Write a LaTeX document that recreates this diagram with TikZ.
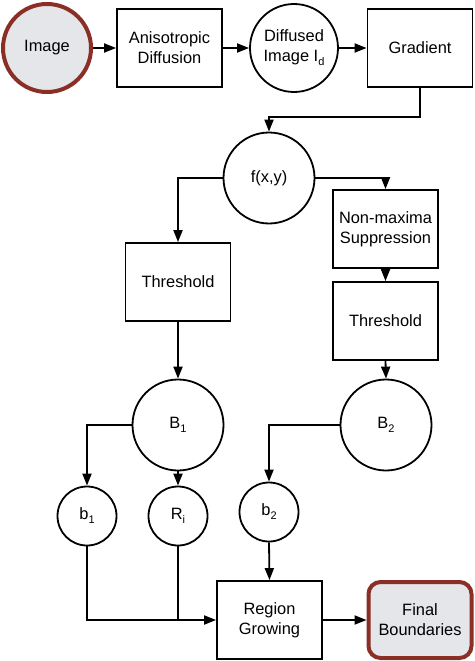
\documentclass[tikz,border=0pt]{standalone}
\usepackage{fontspec}
\setmainfont{Liberation Sans}
\usetikzlibrary{arrows.meta}
\definecolor{bred}{HTML}{8B2E26}
\definecolor{bgray}{HTML}{E5E6EA}
\newcommand{\lowsub}[1]{\raisebox{-0.45ex}{\fontsize{11}{11}\selectfont #1}}
\tikzset{
  base/.style={draw=black, line width=1.8pt, align=center, inner sep=0pt,
    font=\fontsize{16.4}{20}\selectfont},
  box/.style={base, rectangle, minimum width=105pt, minimum height=78pt},
  bigc/.style={base, circle, minimum size=91pt},
  smallc/.style={base, circle, minimum size=59pt},
  term/.style={base, draw=bred, line width=4pt, fill=bgray},
  conn/.style={line width=1.8pt, -{Triangle[length=12pt,width=9pt]}},
  plain/.style={line width=1.8pt}
}
\begin{document}
\begin{tikzpicture}[x=1pt,y=-1pt]
\useasboundingbox (0,0) rectangle (474,661);
\node[term, circle, minimum size=88pt] (img) at (47,48) {Image};
\node[box] (aniso) at (169.5,48) {Anisotropic\\Diffusion};
\node[bigc, minimum size=88pt] (diff) at (294,48) {Diffused\\Image I\lowsub{d}};
\node[box] (grad) at (420,48) {Gradient};
\node[bigc] (f) at (269,178) {f(x,y)};
\node[box] (nms) at (385.5,229) {Non-maxima\\Suppression};
\node[box] (th1) at (178,282) {Threshold};
\node[box] (th2) at (385.5,321) {Threshold};
\node[bigc] (B1) at (178,425) {B\lowsub{1}};
\node[bigc] (B2) at (386,425) {B\lowsub{2}};
\node[smallc] (b1) at (87,516) {b\lowsub{1}};
\node[smallc] (Ri) at (178,516) {R\lowsub{i}};
\node[smallc] (b2) at (269,512) {b\lowsub{2}};
\node[box] (rg) at (269.5,620) {Region\\Growing};
\node[term, rectangle, rounded corners=12pt, minimum width=103pt, minimum height=76pt] (fb) at (420,620) {Final\\Boundaries};
\coordinate (g1) at (420,117);
\draw[conn] (img) -- (aniso);
\draw[conn] (aniso) -- (diff);
\draw[conn] (diff) -- (grad);
\draw[conn] (grad.south) -- (g1) -| (f.north);
\draw[conn] (f.west) -| (th1.north);
\draw[conn] (f.east) -| (nms.north);
\draw[conn] (nms.south) -- (th2.north);
\draw[conn] (th1.south) -- (B1.north);
\draw[conn] (th2.south) -- (B2.north);
\draw[conn] (B1.west) -| (b1.north);
\draw[conn] (B1.south) -- (Ri.north);
\draw[conn] (B2.west) -| (b2.north);
\draw[conn] (b1.south) |- (rg.west);
\draw[plain] (Ri.south) -- (Ri.south |- rg.west);
\draw[conn] (b2.south) -- (rg.north);
\draw[conn] (rg.east) -- (fb.west);
\end{tikzpicture}
\end{document}
